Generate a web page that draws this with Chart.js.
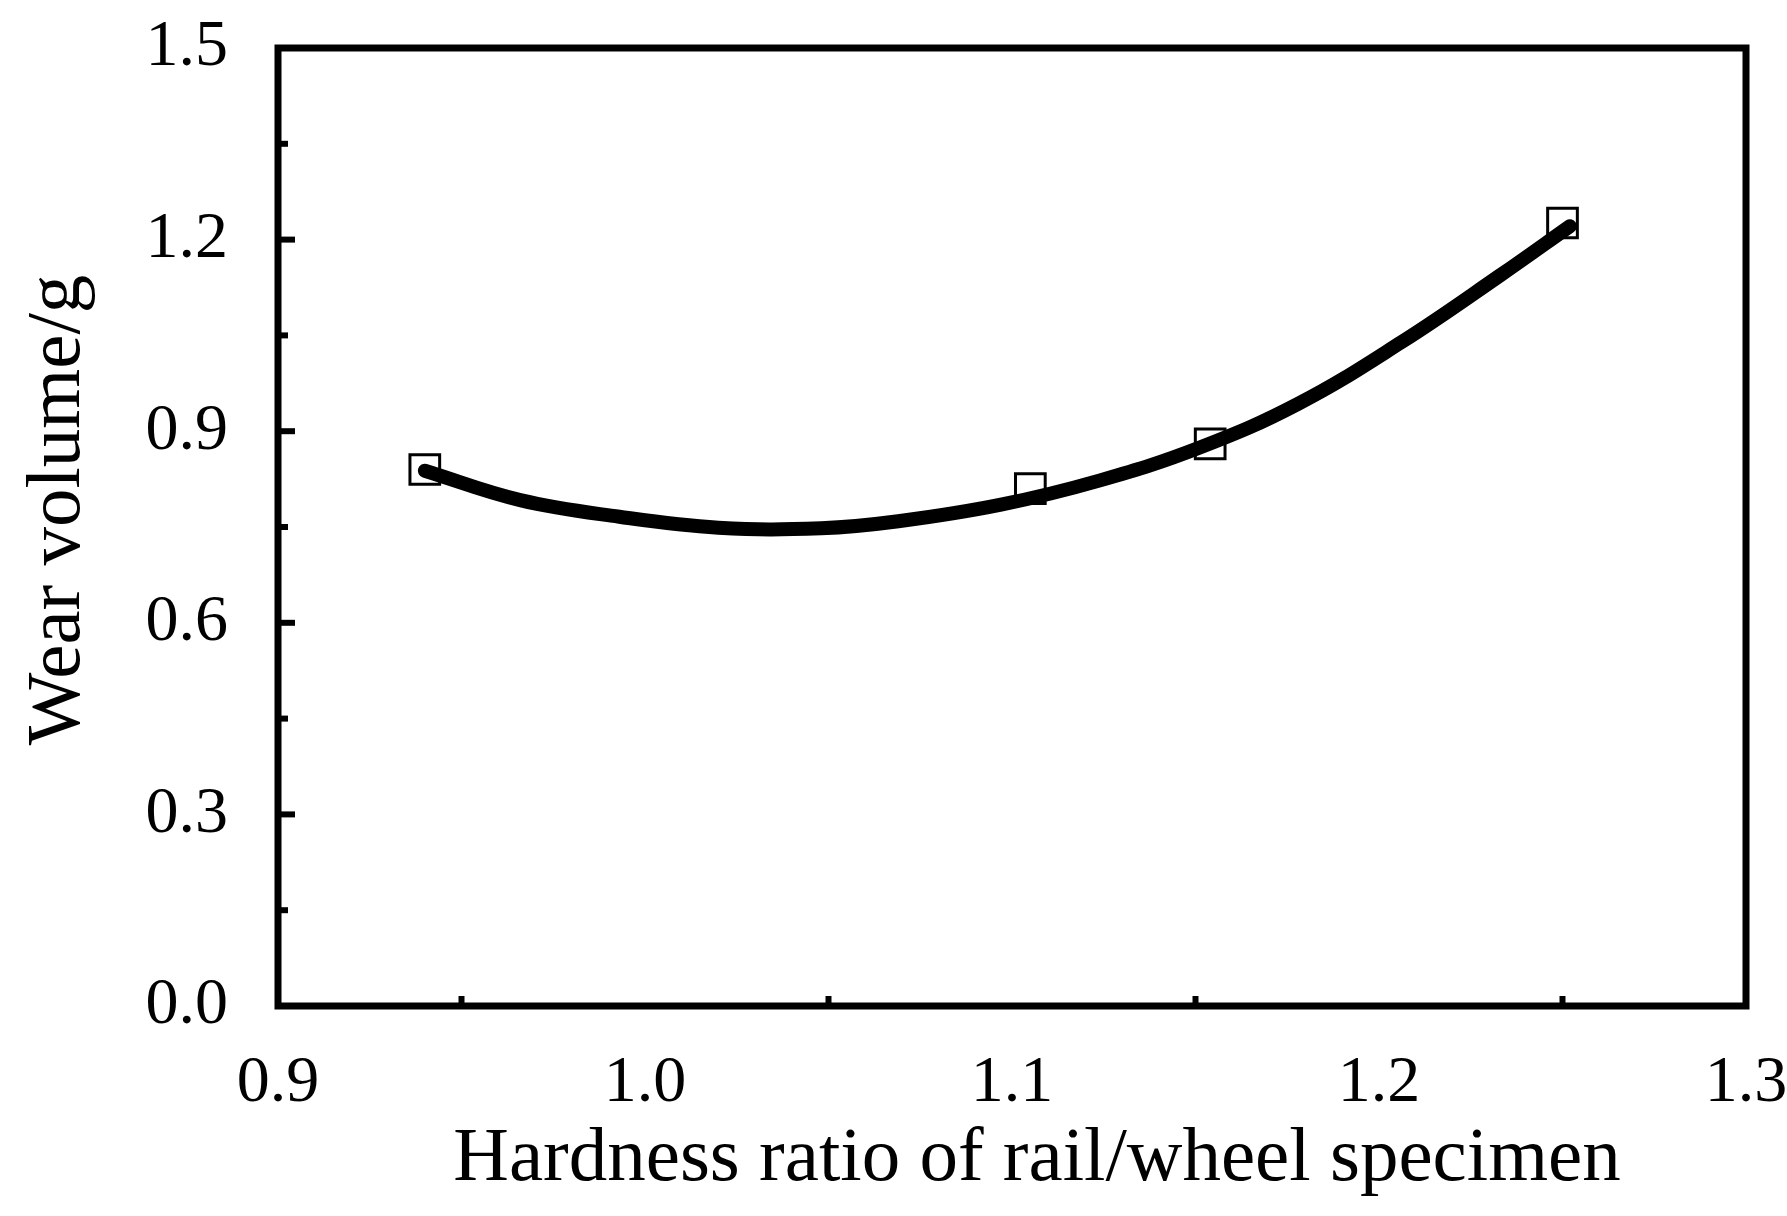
<!DOCTYPE html>
<html><head><meta charset="utf-8">
<script src="https://cdn.jsdelivr.net/npm/chart.js@4"></script>
<style>html,body{margin:0;padding:0;background:#fff;overflow:hidden}#wrap{width:1787px;height:1216px}</style>
</head><body><div id="wrap"><canvas id="c" width="1787" height="1216"></canvas></div>
<script>
// measured points
const hardnessRatio = [0.94, 1.105, 1.154, 1.25];
const wearVolume = [0.84, 0.81, 0.88, 1.226];
// fitted curve
const fitX = [0.94, 0.966, 0.993, 1.02, 1.048, 1.069, 1.097, 1.124, 1.151, 1.178, 1.206, 1.233, 1.252];
const fitY = [0.838, 0.792, 0.766, 0.749, 0.748, 0.759, 0.785, 0.823, 0.874, 0.943, 1.039, 1.144, 1.221];
// axes
const xTickValues = [0.9, 0.95, 1.0, 1.05, 1.1, 1.15, 1.2, 1.25, 1.3];
const xTickLabels = ['0.9', '', '1.0', '', '1.1', '', '1.2', '', '1.3'];
const yTickValues = [0, 0.15, 0.3, 0.45, 0.6, 0.75, 0.9, 1.05, 1.2, 1.35, 1.5];
const yTickLabels = ['0.0', '', '0.3', '', '0.6', '', '0.9', '', '1.2', '', '1.5'];
const xTitle = 'Hardness ratio of rail/wheel specimen';
const yTitle = 'Wear volume/g';

const FONT = '"Liberation Serif", "Times New Roman", serif';

const framePlugin = {
  id: 'frame',
  afterDraw(chart) {
    const {ctx, chartArea: a, scales} = chart;
    ctx.save();
    ctx.strokeStyle = '#000';
    ctx.lineCap = 'butt';
    ctx.lineWidth = 6;
    scales.y.ticks.forEach((t, i) => {
      const py = scales.y.getPixelForValue(t.value);
      const len = yTickLabels[i] ? 17 : 10;
      ctx.beginPath(); ctx.moveTo(a.left, py); ctx.lineTo(a.left + len, py); ctx.stroke();
    });
    scales.x.ticks.forEach((t, i) => {
      if (xTickLabels[i]) return;
      const px = scales.x.getPixelForValue(t.value);
      ctx.beginPath(); ctx.moveTo(px, a.bottom); ctx.lineTo(px, a.bottom - 10); ctx.stroke();
    });
    ctx.lineWidth = 7;
    ctx.strokeRect(a.left, a.top, a.right - a.left, a.bottom - a.top);
    // axis titles
    ctx.fillStyle = '#000';
    ctx.font = '77px ' + FONT;
    ctx.textAlign = 'center';
    ctx.textBaseline = 'alphabetic';
    ctx.fillText(xTitle, (a.left + a.right) / 2 + 25, 1180);
    ctx.translate(59, (a.top + a.bottom) / 2 - 17);
    ctx.rotate(-Math.PI / 2);
    ctx.textBaseline = 'middle';
    ctx.fillText(yTitle, 0, 0);
    ctx.restore();
  }
};

new Chart(document.getElementById('c'), {
  type: 'scatter',
  data: {
    datasets: [
      {
        type: 'line',
        data: fitX.map((x, i) => ({x, y: fitY[i]})),
        borderColor: '#000',
        borderWidth: 14,
        borderCapStyle: 'round',
        pointRadius: 0,
        tension: 0.4,
        fill: false,
        order: 0
      },
      {
        data: hardnessRatio.map((x, i) => ({x, y: wearVolume[i]})),
        pointStyle: 'rect',
        pointRadius: 21,
        pointBorderWidth: 3,
        pointBorderColor: '#000',
        pointBackgroundColor: 'rgba(255,255,255,0)',
        showLine: false,
        order: 1
      }
    ]
  },
  plugins: [framePlugin],
  options: {
    responsive: false,
    animation: false,
    layout: {padding: {top: 48, right: 41, left: 0, bottom: 0}},
    plugins: {legend: {display: false}, tooltip: {enabled: false}},
    scales: {
      x: {
        type: 'linear', min: 0.9, max: 1.3,
        afterBuildTicks: s => { s.ticks = xTickValues.map(v => ({value: v})); },
        afterFit: s => { s.height = 210; s.paddingLeft = 0; s.paddingRight = 0; },
        grid: {display: false, drawTicks: false},
        border: {display: false},
        ticks: {
          color: '#000', padding: 38, maxRotation: 0, autoSkip: false,
          font: {family: FONT, size: 66},
          callback: (v, i) => xTickLabels[i]
        },
        title: {display: false}
      },
      y: {
        type: 'linear', min: 0, max: 1.5,
        afterBuildTicks: s => { s.ticks = yTickValues.map(v => ({value: v})); },
        afterFit: s => { s.width = 278; s.paddingTop = 0; s.paddingBottom = 0; },
        grid: {display: false, drawTicks: false},
        border: {display: false},
        ticks: {
          color: '#000', padding: 50, autoSkip: false,
          font: {family: FONT, size: 66},
          callback: (v, i) => yTickLabels[i]
        },
        title: {display: false}
      }
    }
  }
});
</script>
</body></html>
